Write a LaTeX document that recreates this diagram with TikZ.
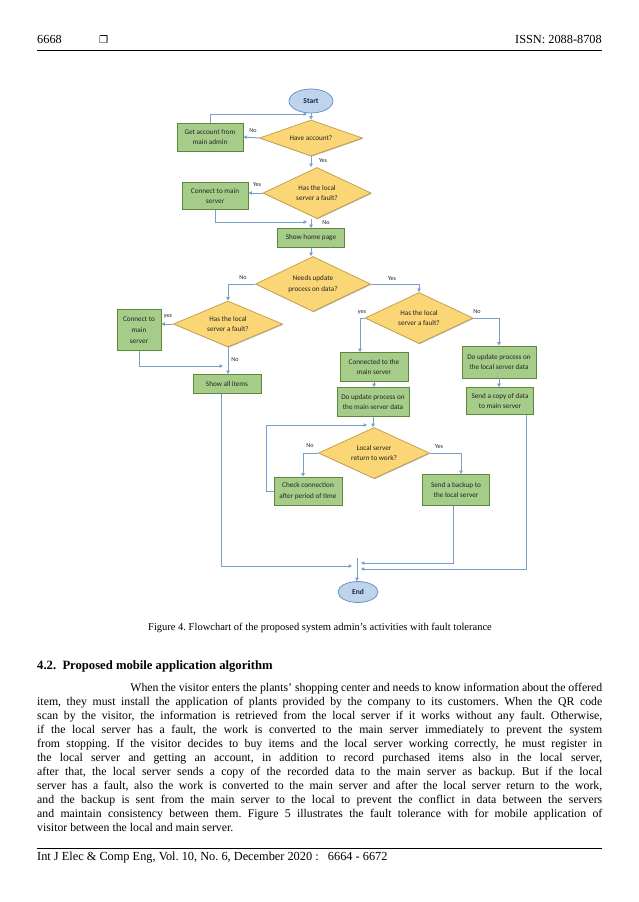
\documentclass[tikz,border=0pt]{standalone}
\usepackage{fontspec}
\setmainfont{Liberation Serif}
\newfontfamily\fcfont{Carlito}
\newfontfamily\symfont{DejaVu Sans}
\usetikzlibrary{shapes.geometric,arrows.meta,calc,shadows}
\definecolor{boxfill}{RGB}{165,205,137}
\definecolor{boxline}{RGB}{95,135,58}
\definecolor{decfill}{RGB}{250,214,118}
\definecolor{decline}{RGB}{195,160,75}
\definecolor{termfill}{RGB}{190,212,237}
\definecolor{termline}{RGB}{100,145,200}
\definecolor{connc}{RGB}{120,160,205}
\definecolor{fctext}{RGB}{35,35,35}
\definecolor{termtext}{RGB}{25,35,70}
\frenchspacing
\begin{document}
\begin{tikzpicture}[x=0.93304pt,y=-0.93304pt,
  sz/.style 2 args={minimum width=#1*0.93304pt,minimum height=#2*0.93304pt},
  fc/.style={font=\fcfont\fontsize{6.7}{10}\selectfont,text=fctext,align=center,inner sep=0pt},
  shad/.style={drop shadow={shadow xshift=0.7pt,shadow yshift=-0.7pt,opacity=0.3,fill=black}},
  procbox/.style={fc,rectangle,draw=boxline,fill=boxfill,line width=0.7pt,shad},
  decbox/.style={fc,diamond,aspect=2,draw=decline,fill=decfill,line width=0.7pt,shad},
  term/.style={ellipse,draw=termline,fill=termfill,line width=0.7pt,inner sep=0pt,
    font=\fcfont\bfseries\fontsize{7}{8}\selectfont,text=termtext},
  flow/.style={draw=connc,line width=0.9pt,-{Triangle[length=3.2pt,width=3.2pt]}},
  lbl/.style={font=\fcfont\fontsize{5.7}{6}\selectfont,text=fctext,inner sep=0pt},
  page/.style={font=\fontsize{11}{13.1}\selectfont,inner sep=0pt},
  hf/.style={font=\fontsize{11.5}{13}\selectfont,inner sep=0pt}
]
\fill[white] (0,0) rectangle (638,902);
\useasboundingbox (0,0) rectangle (638,902);

% header
\node[hf,anchor=base west] (hnum) at (37,44) {6668};
\node[anchor=base west,inner sep=0pt,font=\symfont\fontsize{9.5}{10}\selectfont] (hsym) at (99,44) {❐};
\node[hf,anchor=base east] (hissn) at (602,44) {ISSN: 2088-8708};
\draw[line width=0.8pt] (37,50) coordinate (hr1) -- (602,50) coordinate (hr2);

% flowchart nodes
\node[term,sz={44}{24}] (start) at (311,101) {Start};
\node[decbox,sz={103}{36}] (d1) at (311,138) {Have account?};
\node[procbox,sz={66}{28}] (b1) at (210,137) {Get account from\\main admin};
\node[decbox,sz={108}{51}] (d2) at (317,193) {Has the local\\server a fault?};
\node[procbox,sz={66}{27}] (b2) at (215,196) {Connect to main\\server};
\node[procbox,sz={67}{19}] (b3) at (311,238) {Show home page};
\node[decbox,sz={115}{55}] (d3) at (313,284) {Needs update\\process on data?};
\node[decbox,sz={109}{46}] (d4) at (228,324) {Has the local\\server a fault?};
\node[procbox,sz={44}{41}] (b4) at (139,330) {Connect to\\main\\server};
\node[procbox,sz={68}{19}] (b5) at (227,384) {Show all items};
\node[decbox,sz={108}{51}] (d5) at (419,318) {Has the local\\server a fault?};
\node[procbox,sz={68}{29}] (b6) at (374,367) {Connected to the\\main server};
\node[procbox,sz={72}{29}] (b7) at (373,402) {Do update process on\\the main server data};
\node[procbox,sz={74}{32}] (b8) at (499,362) {Do update process on\\the local server data};
\node[procbox,sz={67}{27}] (b9) at (500,401) {Send a copy of data\\to main server};
\node[decbox,sz={111}{51}] (d6) at (374,453) {Local server\\return to work?};
\node[procbox,sz={68}{28}] (b10) at (308,491) {Check connection\\after period of time};
\node[procbox,sz={67}{31}] (b11) at (456,490) {Send a backup to\\the local server};
\node[term,sz={40}{21}] (end) at (358,592) {End};

% free ends
\coordinate (q1) at (307,114);
\coordinate (q2) at (307,222);
\coordinate (q3) at (223,366);
\coordinate (q4a) at (266,425);
\coordinate (q4) at (367,425);
\coordinate (q5) at (352,566);
\coordinate (q6) at (361,563);
\coordinate (q7) at (361,569);
\coordinate (q8) at (357,558);

% connectors
\draw[flow] (start) -- (d1);
\draw[flow] (d1.west) -- (b1.east);
\draw[flow] (b1.north) |- (q1);
\draw[flow] (d1.south) -- (d2.north -| d1.south);
\draw[flow] (d2.west) -- (d2.west -| b2.east);
\draw[flow] (b2.south) |- (q2);
\draw[flow] (d2.south -| b3.north) -- (b3.north);
\draw[flow] (b3.south) -- (b3.south |- d3.north);
\draw[flow] (d3.west) -| (d4.north);
\draw[flow] (d3.east) -| (d5.north);
\draw[flow] (d4.west) -- (d4.west -| b4.east);
\draw[flow] (b4.south) |- (q3);
\draw[flow] (d4.south) -- (d4.south |- b5.north);
\draw[flow] (d5.west) -| ($(b6.north)+(-14,0)$);
\draw[flow] (d5.east) -| (b8.north);
\draw[flow] (b6.south) -- (b6.south |- b7.north);
\draw[flow] (b8.south) -- (b8.south |- b9.north);
\draw[flow] (b7.south) -- (b7.south |- d6.north);
\draw[flow] (d6.west) -| ($(b10.north)+(-5,0)$);
\draw[flow] (d6.east) -| ($(b11.north)+(5,0)$);
\draw[flow] (b10.west) -| (q4a) -- (q4);
\draw[flow] ($(b5.south)+(-6,0)$) |- (q5);
\draw[flow] ($(b11.south)+(-3,0)$) |- (q6);
\draw[flow] ($(b9.south)+(26,0)$) |- (q7);
\draw[flow] (q8) -- (q8 |- end.north);

% connector labels
\node[lbl] (l1) at (253,131) {No};
\node[lbl] (l2) at (323,161) {Yes};
\node[lbl] (l3) at (257,185) {Yes};
\node[lbl] (l4) at (326,223) {No};
\node[lbl] (l5) at (243,278) {No};
\node[lbl] (l6) at (392,279) {Yes};
\node[lbl] (l7) at (168,317) {yes};
\node[lbl] (l8) at (235,360) {No};
\node[lbl] (l9) at (362,313) {yes};
\node[lbl] (l10) at (477,312) {No};
\node[lbl] (l11) at (310,446) {No};
\node[lbl] (l12) at (439,447) {Yes};

% caption and text
\node[page,anchor=base,font=\fontsize{9.8}{12}\selectfont] (cap) at (320,630)
  {Figure 4. Flowchart of the proposed system admin's activities with fault tolerance};
\node[page,anchor=base west,font=\bfseries\fontsize{11.8}{13}\selectfont] (head) at (37,669)
  {4.2.\hspace{0.5em}Proposed mobile application algorithm};
\node[page,anchor=north west,text width=527.2pt,align=justify] (body) at (37,683)
  {\hspace*{87pt}When the visitor enters the plants' shopping center and needs to know information about the offered\linebreak
  item, they must install the application of plants provided by the company to its customers. When the QR code\linebreak
  scan by the visitor, the information is retrieved from the local server if it works without any fault. Otherwise,\linebreak
  if the local server has a fault, the work is converted to the main server immediately to prevent the system\linebreak
  from stopping. If the visitor decides to buy items and the local server working correctly, he must register in\linebreak
  the local server and getting an account, in addition to record purchased items also in the local server,\linebreak
  after that, the local server sends a copy of the recorded data to the main server as backup. But if the local\linebreak
  server has a fault, also the work is converted to the main server and after the local server return to the work,\linebreak
  and the backup is sent from the main server to the local to prevent the conflict in data between the servers\linebreak
  and maintain consistency between them. Figure 5 illustrates the fault tolerance with for mobile application of\linebreak
  visitor between the local and main server.};

% footer
\draw[line width=0.8pt] (37,848) coordinate (fr1) -- (602,848) coordinate (fr2);
\node[hf,anchor=base west] (foot) at (37,860)
  {Int J Elec \& Comp Eng, Vol. 10, No. 6, December 2020 :\hspace{0.5em} 6664 - 6672};
\end{tikzpicture}
\end{document}
